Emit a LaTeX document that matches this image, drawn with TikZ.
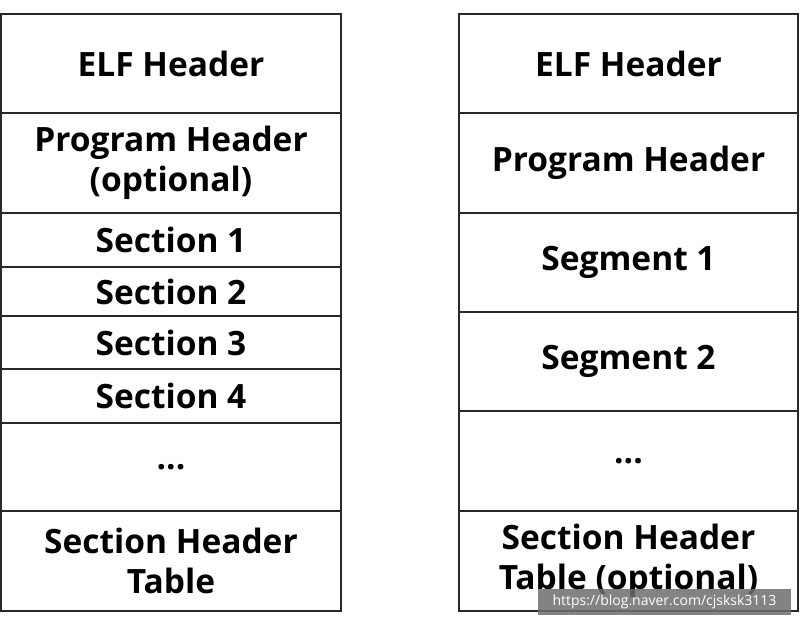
\documentclass[tikz,border=0pt]{standalone}
\usepackage{fontspec}
\setmainfont{Open Sans}
\usepackage{xcolor}
\definecolor{elfline}{RGB}{40,40,40}
\definecolor{markgray}{RGB}{110,110,110}

\begin{document}
\begin{tikzpicture}[x=1pt, y=-1pt]
  \tikzstyle{mycell}=[draw=elfline, line width=2pt, fill=white, inner sep=0pt,
    align=center, font=\fontsize{33.5}{40}\selectfont\bfseries];
  \tikzstyle{leftcell}=[mycell, minimum width=340pt];
  \tikzstyle{rightcell}=[mycell, minimum width=339pt];
  \tikzstyle{mymark}=[fill=markgray, fill opacity=0.85, text opacity=1,
    text=white, inner sep=0pt, minimum width=253pt, minimum height=26pt,
    font=\fontsize{14}{16}\selectfont];
  \useasboundingbox (0, 0) rectangle (800, 625);
  %
  % linking view
  \node[leftcell, minimum height=99pt] (elfL) at (171, 63.5) {ELF Header};
  \node[leftcell, minimum height=100pt] (phL) at (171, 163) {Program Header\\(optional)};
  \node[leftcell, minimum height=54pt] (secA) at (171, 240) {Section 1};
  \node[leftcell, minimum height=49pt] (secB) at (171, 291.5) {Section 2};
  \node[leftcell, minimum height=53pt] (secC) at (171, 342.5) {Section 3};
  \node[leftcell, minimum height=54pt] (secD) at (171, 396) {Section 4};
  \node[leftcell, minimum height=88pt] (dotsL) at (171, 467) {...};
  \node[leftcell, minimum height=100pt] (shtL) at (171, 561) {Section Header\\Table};
  %
  % execution view
  \node[rightcell, minimum height=99pt] (elfR) at (628.5, 63.5) {ELF Header};
  \node[rightcell, minimum height=100pt] (phR) at (628.5, 163) {Program Header};
  \node[rightcell, minimum height=99pt] (segA) at (628.5, 262.5) {Segment 1};
  \node[rightcell, minimum height=99pt] (segB) at (628.5, 361.5) {Segment 2};
  \node[rightcell, minimum height=100pt] (dotsR) at (628.5, 461) {...};
  \node[rightcell, minimum height=100pt] (shtR) at (628.5, 561) {Section Header\\Table (optional)};
  %
  % watermark
  \node[mymark] (mark) at (664.5, 602) {https://blog.naver.com/cjsksk3113};
\end{tikzpicture}
\end{document}
